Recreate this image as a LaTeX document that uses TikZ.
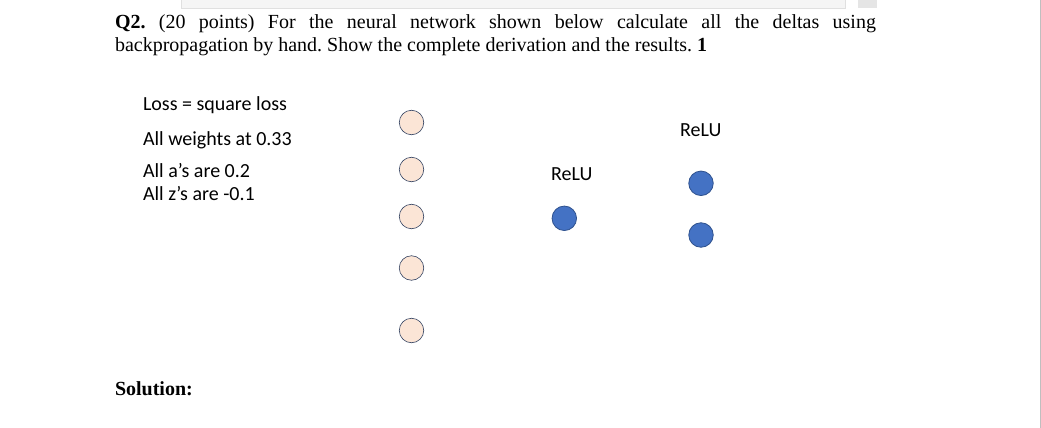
\documentclass[tikz,border=0pt]{standalone}
\usepackage{fontspec}
\setmainfont{Liberation Serif}
\newfontfamily\calibri{Carlito}
\definecolor{peach}{HTML}{FBE5D6}
\definecolor{navy}{HTML}{2F3F5F}
\definecolor{blueA}{HTML}{4472C4}
\definecolor{blueB}{HTML}{2F528F}
\tikzset{
  txt/.style={inner sep=0pt, outer sep=0pt, anchor=base west},
  qtext/.style={txt, font=\fontsize{20}{23}\selectfont},
  lbl/.style={txt, font=\calibri\fontsize{20}{23}\selectfont},
  innode/.style={circle, draw=navy, fill=peach, line width=0.6pt, minimum size=24.5pt, inner sep=0pt},
  relunode/.style={circle, draw=blueB, fill=blueA, line width=0.8pt, minimum size=24.5pt, inner sep=0pt},
}
\begin{document}
\frenchspacing
\begin{tikzpicture}[x=1pt, y=-1pt]
\useasboundingbox (0,0) rectangle (1041,428);
\fill[white] (0,0) rectangle (1041,428);
% page decorations
\filldraw[fill=black!4, draw=black!12, line width=0.6pt] (181,-2) rectangle (845,8);
\fill[black!10] (858,-2) rectangle (877,8);
\draw[black!25, line width=1pt] (1040,0) -- (1040,428);
% question text
\node[qtext] (q1) at (115,28.3) {\makebox[761pt][s]{\textbf{Q2.} (20 points) For the neural network shown below calculate all the deltas using}};
\node[qtext] (q2) at (115,51.7) {backpropagation by hand. Show the complete derivation and the results. \textbf{1}};
% parameters
\node[lbl] (loss) at (143,110.7) {Loss = square loss};
\node[lbl] (w) at (143,145.5) {All weights at 0.33};
\node[lbl] (a) at (143,177) {All a’s are 0.2};
\node[lbl] (z) at (143,200.5) {All z’s are -0.1};
% input layer
\node[innode] (i1) at (411.5,122.5) {};
\node[innode] (i2) at (411.5,169.5) {};
\node[innode] (i3) at (411.5,216.5) {};
\node[innode] (i4) at (411.5,268) {};
\node[innode] (i5) at (411.5,330.5) {};
% hidden layer
\node[relunode] (h1) at (564.3,218.3) {};
\node[lbl, anchor=base] (r1) at (571.7,180) {ReLU};
% output layer
\node[relunode] (o1) at (701,183.3) {};
\node[relunode] (o2) at (701,235) {};
\node[lbl, anchor=base] (r2) at (700.7,136.7) {ReLU};
% solution
\node[qtext] (sol) at (115,395) {\textbf{Solution:}};
\end{tikzpicture}
\end{document}
